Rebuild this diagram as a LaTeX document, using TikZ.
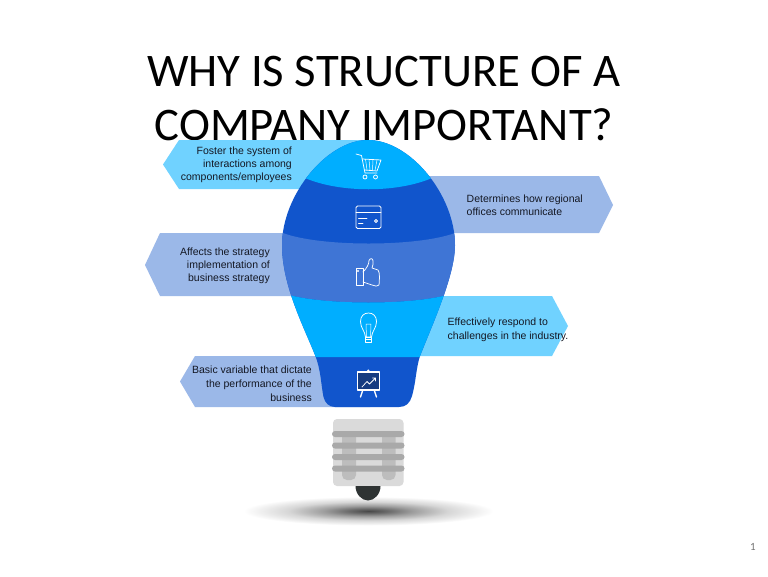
\documentclass[tikz,border=0pt]{standalone}
\usepackage{fontspec}
\setmainfont{Liberation Sans}
\newfontfamily\titlefont{Carlito}
\definecolor{bandA}{HTML}{00AEFF}
\definecolor{bandB}{HTML}{1155CC}
\definecolor{bandC}{HTML}{3F75D5}
\definecolor{arrowL}{HTML}{70D2FF}
\definecolor{arrowD}{HTML}{9BB8E8}
\definecolor{sockL}{HTML}{DADADA}
\definecolor{sockM}{HTML}{BDBDBD}
\definecolor{sockS}{HTML}{A9A9A9}
\definecolor{capD}{HTML}{2E3333}
\definecolor{labelC}{HTML}{141824}
\definecolor{boardC}{HTML}{163C80}
\pgfdeclareradialshading{groundshadow}{\pgfpoint{0bp}{0bp}}{%
  color(0bp)=(black!72);color(4bp)=(black!58);color(9bp)=(black!38);color(16bp)=(black!16);color(25bp)=(white);color(50bp)=(white)}
\newcommand{\bulbpath}{(368,140) .. controls (410,140) and (455,195) .. (455,245) .. controls (455,275) and (433,323) .. (420,356) .. controls (416,368) and (416,382) .. (412,396) .. controls (410,403) and (406,407) .. (399,407) -- (335,407) .. controls (329,407) and (325,403) .. (323.5,397) .. controls (321,385) and (321,370) .. (315,355) .. controls (303,325) and (282,285) .. (282,245) .. controls (282,195) and (327,140) .. (368,140) -- cycle}
\tikzset{
  titletext/.style={font=\titlefont\fontsize{46.7}{54.5}\selectfont,text=black,align=center,inner sep=0},
  lefttext/.style={font=\fontsize{10.5}{12.8}\selectfont,text=labelC,align=right,inner sep=0,anchor=east},
  righttext/.style={font=\fontsize{10.5}{13}\selectfont,text=labelC,align=left,inner sep=0,anchor=west},
  iconline/.style={draw=white,line width=0.75pt,line join=round,line cap=round},
  stripe/.style={fill=sockS,rounded corners=3pt},
}
\begin{document}
\begin{tikzpicture}[x=1pt,y=-1pt]
\useasboundingbox (0,0) rectangle (768,576);
\fill[white] (0,0) rectangle (768,576);
% title
\node[titletext] (title) at (384,98.5) {WHY IS STRUCTURE OF A\\COMPANY IMPORTANT?};
% arrows
\fill[arrowL] (163,164.5) -- (179,140) -- (370,140) -- (370,189) -- (179,189) -- cycle;
\fill[arrowD] (370,176) -- (599,176) -- (613,205) -- (599,233) -- (370,233) -- cycle;
\fill[arrowD] (145,265) -- (160,233) -- (370,233) -- (370,296) -- (160,296) -- cycle;
\fill[arrowL] (370,296) -- (552,296) -- (568,326) -- (552,356) -- (370,356) -- cycle;
\fill[arrowD] (180,381.5) -- (195,356) -- (370,356) -- (370,407) -- (195,407) -- cycle;
% bulb
\begin{scope}
\clip \bulbpath;
\fill[bandB] (270,130) rectangle (470,420);
\fill[bandA] (270,130) rectangle (470,170) ;
\fill[bandA] (270,170) -- (305,178) .. controls (340,193) and (397,193) .. (432,178) -- (470,170) -- cycle;
\fill[bandC] (270,233) -- (283,233) .. controls (320,247) and (417,247) .. (455,233) -- (470,233) -- (470,295) -- (447,295) .. controls (410,305) and (327,305) .. (289,295) -- (270,295) -- cycle;
\fill[bandA] (270,295) -- (289,295) .. controls (327,305) and (410,305) .. (447,295) -- (470,295) -- (470,357) -- (270,357) -- cycle;
\end{scope}
% shadow
\shade[shading=groundshadow] (368.5,511) ellipse (125 and 14.5);
% socket
\fill[sockL,rounded corners=4pt] (333,419) rectangle (403.5,486);
\fill[sockM,rounded corners=5pt] (342,431) rectangle (356,480);
\fill[sockM,rounded corners=5pt] (382,431) rectangle (395.5,480);
\fill[stripe] (332,431) rectangle (404.5,437);
\fill[stripe] (332,442.5) rectangle (404.5,448.5);
\fill[stripe] (332,454) rectangle (404.5,460);
\fill[stripe] (332,465.5) rectangle (404.5,471.5);
\fill[capD] (355.5,486) -- (380.5,486) .. controls (380.5,494) and (374.5,500.5) .. (368,500.5) .. controls (361.5,500.5) and (355.5,494) .. (355.5,486) -- cycle;
% cart
\draw[iconline] (356,154) -- (361.5,155.5) -- (365,173) -- (377,173);
\draw[iconline] (362,159) -- (381,160) -- (377,171) -- (364.5,170);
\draw[iconline,line width=0.5pt] (365.5,159) -- (367,170) (369,159.5) -- (370,170) (373,159.5) -- (372.5,170.5) (377,160) -- (375,170.5);
\draw[iconline] (365,177) circle (2) (375.5,177) circle (2);
% card
\draw[iconline,rounded corners=1.5pt] (356,206) rectangle (381,228.5);
\draw[iconline] (356,212) -- (381,212) (358.5,218.5) -- (367,218.5) (358.5,223) -- (363,223);
\draw[iconline] (376,221) circle (1.5);
% thumb
\draw[iconline] (356,268) rectangle (363,285.5);
\draw[iconline] (363,272) .. controls (367,268) and (369,264) .. (369,260.5) .. controls (370,258) and (373,258) .. (373,261) .. controls (374,264) and (372,266) .. (372,268) -- (378,270) .. controls (380,272) and (379.5,280) .. (379,285) .. controls (378,287) and (375,286) .. (372,285) -- (363,282);
\draw[iconline] (358,271) circle (0.6);
% lightbulb
\draw[iconline] (365.5,337) .. controls (365,331) and (360.5,328) .. (360.5,321.5) .. controls (360.5,316) and (364,313) .. (368.5,313) .. controls (373,313) and (376.5,316) .. (376.5,321.5) .. controls (376.5,328) and (372,331) .. (371.5,337) -- cycle;
\draw[iconline] (365.5,337) rectangle (371.5,342) (365.5,339.5) -- (371.5,339.5);
\draw[iconline,line width=0.5pt] (366.5,337) -- (366,324) -- (371,324) -- (370.5,337);
% easel
\fill[white] (368.3,370.5) circle (1.2);
\draw[iconline,line width=1.1pt,fill=boardC] (357.5,372) rectangle (379.5,390);
\draw[iconline] (362,387) -- (367,381.5) -- (369.5,384) -- (375.5,378) (372.5,378) -- (375.5,378) -- (375.5,381);
\draw[iconline,line width=1.4pt] (362.5,391) -- (360.5,397) (374.5,391) -- (376.5,397);
% labels
\node[lefttext] (fos) at (292,165) {Foster the system of\\interactions among\\components/employees};
\node[righttext] (det) at (466.5,205) {Determines how regional\\offices communicate};
\node[lefttext] (aff) at (270,265.5) {Affects the strategy\\implementation of\\business strategy};
\node[righttext,font=\fontsize{10.5}{14}\selectfont] (eff) at (447.5,329.5) {Effectively respond to\\challenges in the industry.};
\node[lefttext,font=\fontsize{10.5}{14}\selectfont] (bas) at (312,383.5) {Basic variable that dictate\\the performance of the\\business};
\node[font=\titlefont\fontsize{11}{13}\selectfont,text=black!55,inner sep=0] (pg) at (753,547) {1};
\end{tikzpicture}
\end{document}
